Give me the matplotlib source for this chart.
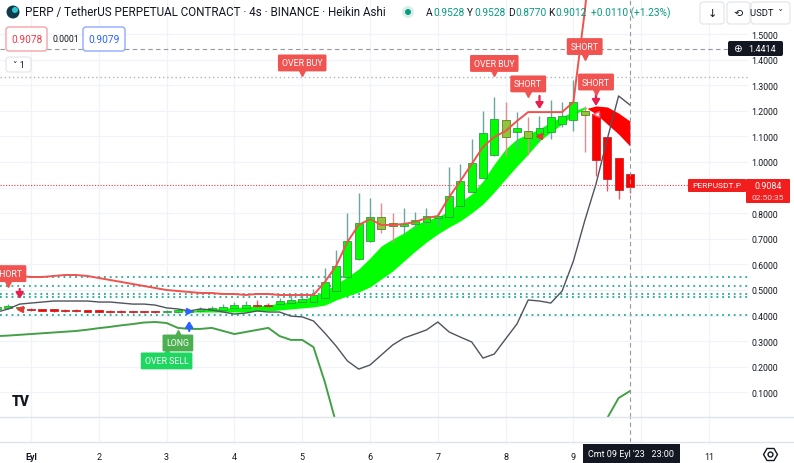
import numpy as np
import pandas as pd
import matplotlib
matplotlib.use("Agg")
import matplotlib.pyplot as plt
from matplotlib.patches import FancyBboxPatch, Circle
from matplotlib.lines import Line2D
import matplotlib.transforms as mtransforms

plt.rcParams['font.family'] = ['Roboto', 'DejaVu Sans']

# ---------------- data ----------------
candle_time = pd.date_range("2023-08-31 12:00", periods=57, freq="4h")

opens = [0.424, 0.428, 0.434, 0.426, 0.425, 0.424, 0.423, 0.422, 0.421, 0.420,
         0.419, 0.418, 0.417, 0.416, 0.415, 0.413, 0.414, 0.415, 0.418, 0.422,
         0.422, 0.430, 0.430, 0.441, 0.440, 0.445, 0.449, 0.453, 0.453, 0.469,
         0.496, 0.551, 0.621, 0.691, 0.738, 0.750, 0.750, 0.758, 0.766, 0.781,
         0.785, 0.828, 0.883, 0.938, 1.027, 1.098, 1.117, 1.094, 1.109, 1.117,
         1.148, 1.164, 1.184, 1.188, 1.098, 1.016, 0.9528]
highs = [0.440, 0.445, 0.438, 0.428, 0.427, 0.426, 0.425, 0.424, 0.423, 0.422,
         0.421, 0.420, 0.419, 0.418, 0.417, 0.422, 0.424, 0.426, 0.432, 0.438,
         0.445, 0.452, 0.456, 0.462, 0.450, 0.470, 0.480, 0.490, 0.502, 0.586,
         0.656, 0.800, 0.879, 0.859, 0.840, 0.800, 0.820, 0.805, 0.820, 0.800,
         0.980, 0.992, 1.090, 1.199, 1.254, 1.234, 1.195, 1.176, 1.180, 1.242,
         1.234, 1.320, 1.219, 1.188, 1.098, 1.016, 0.9528]
lows = [0.420, 0.424, 0.424, 0.418, 0.417, 0.416, 0.415, 0.415, 0.414, 0.413,
        0.412, 0.412, 0.411, 0.411, 0.411, 0.411, 0.412, 0.413, 0.416, 0.420,
        0.420, 0.428, 0.428, 0.433, 0.432, 0.443, 0.447, 0.451, 0.451, 0.467,
        0.494, 0.549, 0.619, 0.689, 0.723, 0.688, 0.719, 0.740, 0.755, 0.750,
        0.783, 0.826, 0.881, 0.936, 1.025, 1.023, 1.051, 1.027, 1.078, 1.090,
        1.137, 1.121, 1.039, 0.945, 0.887, 0.855, 0.8770]
closes = [0.432, 0.436, 0.428, 0.420, 0.419, 0.418, 0.417, 0.417, 0.416, 0.415,
          0.414, 0.414, 0.413, 0.413, 0.413, 0.419, 0.420, 0.421, 0.426, 0.430,
          0.434, 0.441, 0.441, 0.437, 0.436, 0.457, 0.461, 0.465, 0.480, 0.531,
          0.594, 0.691, 0.762, 0.785, 0.785, 0.762, 0.758, 0.773, 0.789, 0.789,
          0.867, 0.926, 0.996, 1.113, 1.168, 1.164, 1.133, 1.121, 1.133, 1.176,
          1.180, 1.234, 1.199, 1.008, 0.934, 0.891, 0.9012]
# g = bull, r = bear, o = olive (indicator colour)
candle_style = list("ggo" + "rrrrrrrrrrrr" + "gggggggg" + "rr" + "ggggggggg" + "oo"
                    + "ggggggggg" + "o" + "g" + "o" + "gggg" + "o" + "rrrr")

upper_band = [0.5625, 0.5586, 0.5547, 0.5508, 0.5508, 0.5547, 0.5586, 0.5586, 0.5547, 0.5469,
              0.5391, 0.5313, 0.5234, 0.5156, 0.5078, 0.5000, 0.4961, 0.4922, 0.4883, 0.4883,
              0.4844, 0.4844, 0.4805, 0.4844, 0.4844, 0.4805, 0.4805, 0.4805, 0.4805, 0.531,
              0.594, 0.6875, 0.754, 0.777, 0.754, 0.754, 0.758, 0.766, 0.781, 0.789,
              0.863, 0.926, 0.992, 1.059, 1.098, 1.121, 1.160, 1.195, 1.195, 1.195,
              1.195, 1.234, 1.586, 2.00, 2.20, 2.30, 2.30]
middle_line = [0.414, 0.426, 0.445, 0.449, 0.453, 0.457, 0.457, 0.457, 0.457, 0.453,
               0.453, 0.449, 0.445, 0.445, 0.441, 0.430, 0.426, 0.418, 0.426, 0.422,
               0.414, 0.406, 0.410, 0.418, 0.414, 0.414, 0.398, 0.395, 0.379, 0.332,
               0.281, 0.223, 0.191, 0.207, 0.246, 0.285, 0.3125, 0.328, 0.344, 0.375,
               0.336, 0.316, 0.297, 0.234, 0.250, 0.309, 0.367, 0.461, 0.457, 0.449,
               0.496, 0.613, 0.770, 0.914, 1.090, 1.258, 1.223]
lower_band = [0.320, 0.322, 0.325, 0.328, 0.331, 0.334, 0.337, 0.340, 0.345, 0.351,
              0.356, 0.362, 0.367, 0.373, 0.375, 0.371, 0.352, 0.348, 0.348, 0.352,
              0.340, 0.328, 0.336, 0.344, 0.352, 0.320, 0.305, 0.305, 0.277, 0.141,
              -0.02, -0.25, -0.40, -0.45, -0.47, -0.48, -0.50, -0.52, -0.52, -0.50,
              -0.55, -0.58, -0.60, -0.66, -0.68, -0.66, -0.60, -0.50, -0.48, -0.46,
              -0.42, -0.36, -0.28, -0.15, 0.0, 0.078, 0.105]
nan = np.nan
fast_ma = [nan] * 16 + [0.418, 0.418, 0.422, 0.426, 0.430, 0.430, 0.434, 0.4375, 0.441, 0.449,
                        0.453, 0.461, 0.477, 0.496, 0.523, 0.551, 0.582, 0.625, 0.672, 0.699,
                        0.723, 0.754, 0.773, 0.785, 0.809, 0.844, 0.875, 0.926, 0.992, 1.051,
                        1.090, 1.109, 1.129, 1.156, 1.176, 1.199, 1.215, 1.188, 1.148, 1.109, 1.0625]
slow_ma = [nan] * 16 + [0.418, 0.414, 0.414, 0.414, 0.414, 0.414, 0.414, 0.418, 0.418, 0.422,
                        0.426, 0.430, 0.434, 0.441, 0.461, 0.477, 0.492, 0.512, 0.543, 0.574,
                        0.613, 0.652, 0.6875, 0.719, 0.746, 0.770, 0.801, 0.836, 0.883, 0.934,
                        0.984, 1.031, 1.082, 1.117, 1.148, 1.184, 1.207, 1.219, 1.215, 1.191, 1.160]

level_lines = [0.551, 0.516, 0.484, 0.473, 0.402]
upper_level = 1.332
last_price = 0.9084
cross_price = 1.4414

short_text = ["SHORT", "OVER BUY", "OVER BUY", "SHORT", "SHORT", "SHORT"]
short_idx = [1, 27, 44, 47, 52, 53]
short_price = [0.564, 1.387, 1.385, 1.305, 1.451, 1.3125]
long_text = ["OVER SELL", "LONG"]
long_idx = [15, 16]
long_price = [0.223, 0.293]
long_color = ["#1ed760", "#4caf50"]
down_arrow_idx = [2, 48, 53]
down_arrow_from = [0.504, 1.258, 1.266]
down_arrow_to = [0.465, 1.207, 1.219]
up_arrow_idx = [17]
up_arrow_from = [0.340]
up_arrow_to = [0.379]

price_ticks = [0.1, 0.2, 0.3, 0.4, 0.5, 0.6, 0.7, 0.8, 0.9, 1.0, 1.1, 1.2, 1.3, 1.4, 1.5]
price_labels = ["0.1000", "0.2000", "0.3000", "0.4000", "0.5000", "0.6000", "0.7000", "0.8000",
                "", "1.0000", "1.1000", "1.2000", "1.3000", "1.4000", "1.5000"]
day_ticks = [1, 2, 3, 4, 5, 6, 7, 8, 9, 10, 11]
day_labels = ["Eyl", "2", "3", "4", "5", "6", "7", "8", "9", "", "11"]

# ---------------- figure ----------------
W, H = 794, 464
fig = plt.figure(figsize=(W / 100, H / 100), dpi=100)
fig.patch.set_facecolor("white")
T = fig.dpi_scale_trans


def P(x, y):
    return (x / 100, (H - y) / 100)


t = ((candle_time - pd.Timestamp("2023-08-31")) / pd.Timedelta(days=1)).to_numpy()
opens, highs, lows, closes = map(np.array, (opens, highs, lows, closes))
fast_ma = np.array(fast_ma)
slow_ma = np.array(slow_ma)

ax = fig.add_axes([0, 1 - 418 / H, 748 / W, 418 / H])
ax2 = fig.add_axes([0, 1 - 443 / H, 748 / W, 25 / H])
XL = (1 - 31 / 67.8, 1 + 717 / 67.8)
for a in (ax, ax2):
    a.set_xlim(XL)
    for s in a.spines.values():
        s.set_visible(False)
    a.set_xticks(day_ticks)
    a.grid(True, axis="x", color="#f0f3fa", lw=0.9)
    a.set_axisbelow(True)
ax.set_ylim(1 / 256, 419 / 256)
ax.set_yticks(price_ticks)
ax.set_yticklabels(price_labels)
ax.grid(True, axis="y", color="#f0f3fa", lw=0.9)
ax.yaxis.tick_right()
ax.tick_params(axis="y", length=0, pad=2.5, labelsize=6.3, labelcolor="#131722")
ax.tick_params(axis="x", length=0, labelbottom=False)
ax2.set_ylim(0, 1)
ax2.set_yticks([])
ax2.set_xticklabels(day_labels)
ax2.tick_params(axis="x", length=0, pad=7, labelsize=6.5, labelcolor="#131722")
ax2.get_xticklabels()[0].set_fontweight("bold")

# separators
for yy in (418, 443):
    fig.add_artist(Line2D([0, 1], [1 - yy / H] * 2, transform=fig.transFigure,
                          color="#e0e3eb", lw=1))

# horizontal levels
for p in level_lines:
    ax.axhline(p, color="#22ab94", lw=1.3, ls=(0, (1, 2.2)), zorder=1.5)
ax.axhline(upper_level, color="#b2b5be", lw=1.0, ls=(0, (1, 2)), zorder=1.5)
ax.axhline(last_price, color="#f23645", lw=0.8, ls=(0, (1, 1.5)), zorder=1.5)

# ribbon between moving averages
ax.fill_between(t, fast_ma, slow_ma, where=fast_ma >= slow_ma, interpolate=True,
                color="#00ff00", lw=0, zorder=2)
ax.fill_between(t, fast_ma, slow_ma, where=fast_ma < slow_ma, interpolate=True,
                color="#ff0000", lw=0, zorder=2)

# candles
face = {"g": "#00ff00", "r": "#ff0000", "o": "#8fc43c"}
edge = {"g": "#2f9e44", "r": "#c62828", "o": "#5d7f1f"}
wick = {"g": "#6aa89f", "r": "#e35d6a", "o": "#e38a92"}
w = 0.7 / 6
ax.vlines(t, lows, highs, colors=[wick[s] for s in candle_style], lw=1, zorder=3)
bottoms = np.minimum(opens, closes)
heights = np.maximum(np.abs(closes - opens), 0.005)
ax.bar(t, heights, bottom=bottoms, width=w, color=[face[s] for s in candle_style],
       edgecolor=[edge[s] for s in candle_style], lw=0.6, zorder=3.5)

# indicator lines
ax.plot(t, upper_band, color="#f0524f", lw=1.4, zorder=5)
ax.plot(t, middle_line, color="#50535e", lw=1.0, zorder=5)
ax.plot(t, lower_band, color="#43a047", lw=1.4, zorder=5)

# small signal markers
ax.plot(t[2], 0.426, marker="<", ms=4.5, color="#e53935", zorder=6)
ax.plot(t[48], 1.10, marker="<", ms=4.5, color="#e53935", zorder=6)
ax.plot(t[53], 1.188, marker="<", ms=5, mfc="white", mec="#ff5a6e", zorder=6)
ax.plot(t[17], 0.418, marker=">", ms=4.5, color="#2962ff", zorder=6)

# arrows
for i, a0, a1 in zip(down_arrow_idx, down_arrow_from, down_arrow_to):
    ax.annotate("", xy=(t[i], a1), xytext=(t[i], a0), zorder=7,
                arrowprops=dict(arrowstyle="-|>,head_width=0.22,head_length=0.35",
                                color="#e91e4c", lw=1.6, shrinkA=0, shrinkB=0))
for i, a0, a1 in zip(up_arrow_idx, up_arrow_from, up_arrow_to):
    ax.annotate("", xy=(t[i], a1), xytext=(t[i], a0), zorder=7,
                arrowprops=dict(arrowstyle="-|>,head_width=0.22,head_length=0.35",
                                color="#2962ff", lw=1.6, shrinkA=0, shrinkB=0))

# signal labels
def sig_label(text, i, price, color, down=True):
    tr = mtransforms.offset_copy(ax.transData, fig=fig, x=0, y=(-10 if down else 10), units="dots")
    ax.plot(t[i], price, marker=("v" if down else "^"), ms=5, color=color, transform=tr,
            zorder=9, clip_on=False)
    ax.text(t[i], price, text, ha="center", va="center", color="white", fontsize=6.3,
            zorder=10, bbox=dict(boxstyle="round,pad=0.45,rounding_size=0.15", fc=color, ec="none"))


for s, i, p in zip(short_text, short_idx, short_price):
    sig_label(s, i, p, "#f05350", down=True)
for s, i, p, c in zip(long_text, long_idx, long_price, long_color):
    sig_label(s, i, p, c, down=False)

# crosshair
ax.axhline(cross_price, color="#9598a1", lw=0.8, ls=(0, (4, 3)), zorder=8)
ax.axvline(t[-1], color="#9598a1", lw=0.8, ls=(0, (4, 3)), zorder=8)
ax2.axvline(t[-1], color="#9598a1", lw=0.8, ls=(0, (4, 3)), zorder=8)

# ---------------- header / overlays ----------------
fig.add_artist(Circle(P(13, 13), 0.065, transform=T, fc="#0e3a4a", ec="none"))
fig.add_artist(Circle(P(15, 11), 0.03, transform=T, fc="#2ec5d3", ec="none"))
fig.text(*P(25, 13), "PERP / TetherUS PERPETUAL CONTRACT · 4s · BINANCE · Heikin Ashi",
         transform=T, fontsize=8.4, color="#131722", va="center")
fig.add_artist(Circle(P(408, 13), 0.06, transform=T, fc="#d7efe9", ec="none"))
fig.add_artist(Circle(P(408, 13), 0.03, transform=T, fc="#089981", ec="none"))
ohlc_parts = [(426, "A", "#131722"), (433, "0.9528", "#089981"), (467, "Y", "#131722"),
              (474, "0.9528", "#089981"), (508, "D", "#131722"), (515, "0.8770", "#089981"),
              (548, "K", "#131722"), (555, "0.9012", "#089981"),
              (591, "+0.0110 (+1.23%)", "#089981")]
for x, s, c in ohlc_parts:
    fig.text(*P(x, 13), s, transform=T, fontsize=7.3, color=c, va="center")


def box(x0, y0, x1, y1, fc, ec, lw=1.0, r=0.03):
    fig.add_artist(FancyBboxPatch(P(x0, y1), (x1 - x0) / 100, (y1 - y0) / 100,
                                  boxstyle=f"round,pad=0,rounding_size={r}", transform=T,
                                  fc=fc, ec=ec, lw=lw))


box(6, 28, 47, 52, "white", "#f7a1a8")
fig.text(*P(26.5, 40), "0.9078", transform=T, fontsize=7.3, color="#f23645", ha="center", va="center")
fig.text(*P(66, 40), "0.0001", transform=T, fontsize=6.3, color="#131722", ha="center", va="center")
box(83, 28, 125, 52, "white", "#8fa8ff")
fig.text(*P(104, 40), "0.9079", transform=T, fontsize=7.3, color="#2962ff", ha="center", va="center")
box(6, 58, 31, 73, "white", "#e0e3eb", lw=0.8)
fig.text(*P(18.5, 65.5), "˅ 1", transform=T, fontsize=6.5, color="#131722", ha="center", va="center")

box(700, 3, 724, 25, "white", "#e0e3eb", lw=0.8)
fig.text(*P(712, 14), "↓", transform=T, fontsize=8, color="#131722", ha="center", va="center")
box(727, 3, 750, 25, "white", "#e0e3eb", lw=0.8)
fig.text(*P(738.5, 14), "⟲", transform=T, fontsize=8, color="#131722", ha="center", va="center")
box(751, 3, 790, 25, "white", "#e0e3eb", lw=0.8)
fig.text(*P(767, 14), "USDT  ˅", transform=T, fontsize=6.8, color="#131722", ha="center", va="center")

# price scale labels
box(728, 42, 783, 57, "#131722", "none", r=0.02)
fig.text(*P(737, 49.5), "⊕", transform=T, fontsize=7.5, color="white", ha="center", va="center")
fig.text(*P(762, 49.5), "1.4414", transform=T, fontsize=6.6, color="white", ha="center", va="center")
box(688, 180, 746, 193, "#f21d1d", "none", r=0.01)
fig.text(*P(717, 186.5), "PERPUSDT.P", transform=T, fontsize=6.0, color="white", ha="center", va="center")
box(746, 180, 790, 204, "#f21d1d", "none", r=0.01)
fig.text(*P(768, 186.5), "0.9084", transform=T, fontsize=6.4, color="white", ha="center", va="center")
fig.text(*P(768, 198), "02:50:35", transform=T, fontsize=6.0, color="#ffd6d6", ha="center", va="center")

# bottom
fig.text(*P(21, 402), "TV", transform=T, fontsize=10, fontweight="black", color="#131722",
         ha="center", va="center")
box(583, 445, 680, 464, "#131722", "none", r=0.0)
fig.text(*P(631.5, 455), "Cmt 09 Eyl '23   23:00", transform=T, fontsize=6.5, color="white",
         ha="center", va="center")
fig.add_artist(Line2D([770 / 100], [(H - 455) / 100], transform=T, marker="H", ms=10,
                      mfc="none", mec="#131722", mew=1))
fig.add_artist(Line2D([770 / 100], [(H - 455) / 100], transform=T, marker="o", ms=3.5,
                      mfc="none", mec="#131722", mew=1))

fig.savefig("out.png", dpi=100, facecolor="white")
